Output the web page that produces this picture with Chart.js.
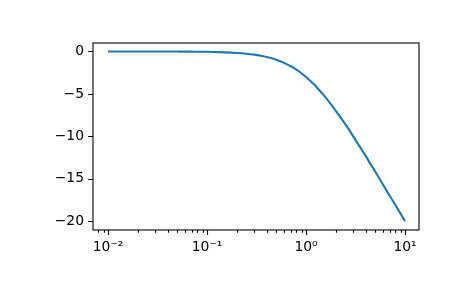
<!DOCTYPE html>
<html>
<head>
<meta charset="utf-8">
<script src="https://cdn.jsdelivr.net/npm/chart.js@4"></script>
<style>
  html, body { margin: 0; padding: 0; background: #fff; }
  #wrap { width: 465px; height: 288px; }
</style>
</head>
<body>
<div id="wrap"><canvas id="grafico" width="465" height="288"></canvas></div>
<script>
// Frequencies (x, log scale) and magnitude values
const freqs = [0.01, 0.02, 0.03, 0.05, 0.07, 0.1, 0.15, 0.2, 0.25, 0.3, 0.35, 0.4, 0.45, 0.5, 0.6, 0.7, 0.8, 0.9, 1, 1.1, 1.2, 1.3, 1.5, 1.7, 2, 2.5, 3, 3.5, 4, 4.5, 5, 6, 7, 8, 9, 10];
const magnitude = [0, 0, 0, -0.01, -0.02, -0.04, -0.1, -0.17, -0.26, -0.37, -0.5, -0.64, -0.8, -0.97, -1.34, -1.73, -2.15, -2.57, -3.01, -3.45, -3.87, -4.3, -5.12, -5.9, -6.99, -8.6, -10.0, -11.25, -12.3, -13.3, -14.15, -15.7, -17.0, -18.1, -19.1, -20.0];

// Tick labels
const xMajorTicks = [0.01, 0.1, 1, 10];
const xTickLabels = ['10\u207B\u00B2', '10\u207B\u00B9', '10\u2070', '10\u00B9'];
const yTicks = [0, -5, -10, -15, -20];

// minor ticks 2..9 per decade
const xMinorTicks = [];
for (const dec of [0.001, 0.01, 0.1, 1, 10]) {
  for (let k = 2; k <= 9; k++) xMinorTicks.push(k * dec);
}

const fonte = { family: 'DejaVu Sans', size: 13.9 };

// draws the frame and the tick marks like matplotlib
const molduraPlugin = {
  id: 'moldura',
  afterDraw(chart) {
    const { ctx, chartArea: a, scales } = chart;
    ctx.save();
    ctx.strokeStyle = '#000';
    ctx.lineWidth = 1.1;
    ctx.beginPath();
    // x ticks
    for (const v of xMajorTicks) {
      const px = Math.round(scales.x.getPixelForValue(v)) + 0.5;
      ctx.moveTo(px, a.bottom); ctx.lineTo(px, a.bottom + 4.9);
    }
    for (const v of xMinorTicks) {
      if (v < scales.x.min || v > scales.x.max) continue;
      const px = Math.round(scales.x.getPixelForValue(v)) + 0.5;
      ctx.moveTo(px, a.bottom); ctx.lineTo(px, a.bottom + 2.8);
    }
    // y ticks
    for (const v of yTicks) {
      const py = Math.round(scales.y.getPixelForValue(v)) + 0.5;
      ctx.moveTo(a.left, py); ctx.lineTo(a.left - 4.9, py);
    }
    ctx.stroke();
    ctx.strokeRect(a.left, a.top, a.right - a.left, a.bottom - a.top);
    ctx.restore();
  }
};

const ctx = document.getElementById('grafico').getContext('2d');
new Chart(ctx, {
  type: 'line',
  data: {
    datasets: [{
      data: freqs.map((f, i) => ({ x: f, y: magnitude[i] })),
      borderColor: '#1f77b4',
      borderWidth: 2.1,
      pointRadius: 0,
      cubicInterpolationMode: 'monotone',
      fill: false
    }]
  },
  options: {
    responsive: false,
    animation: false,
    layout: { padding: { left: 0, top: 43, right: 46, bottom: 0 } },
    plugins: { legend: { display: false }, tooltip: { enabled: false } },
    scales: {
      x: {
        type: 'logarithmic',
        min: Math.pow(10, -2.152),
        max: Math.pow(10, 1.141),
        afterBuildTicks: s => { s.ticks = xMajorTicks.map(v => ({ value: v })); },
        afterFit: s => { s.height = 58; },
        grid: { display: false, drawTicks: false },
        border: { display: false },
        ticks: {
          autoSkip: false,
          maxRotation: 0,
          padding: 9,
          color: '#000',
          font: fonte,
          callback: (v) => xTickLabels[xMajorTicks.indexOf(v)] || ''
        }
      },
      y: {
        min: -21.04,
        max: 1.0,
        afterBuildTicks: s => { s.ticks = yTicks.map(v => ({ value: v })); },
        afterFit: s => { s.width = 93; },
        grid: { display: false, drawTicks: false },
        border: { display: false },
        ticks: {
          padding: 9,
          color: '#000',
          font: fonte,
          callback: v => (v < 0 ? '\u2212' + Math.abs(v) : String(v))
        }
      }
    }
  },
  plugins: [molduraPlugin]
});
</script>
</body>
</html>
